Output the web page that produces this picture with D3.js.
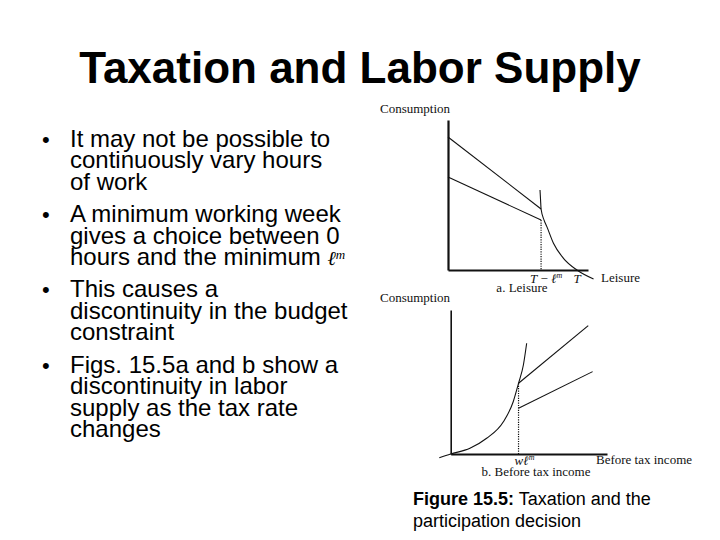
<!DOCTYPE html>
<html>
<head>
<meta charset="utf-8">
<script src="https://cdn.jsdelivr.net/npm/d3@7"></script>
<style>
  body { margin: 0; background: #fff; }
  svg { display: block; }
</style>
</head>
<body>
<script>
const titleText = 'Taxation and Labor Supply';
const bullets = [
  ['It may not be possible to', 'continuously vary hours', 'of work'],
  ['A minimum working week', 'gives a choice between 0', 'hours and the minimum '],
  ['This causes a', 'discontinuity in the budget', 'constraint'],
  ['Figs. 15.5a and b show a', 'discontinuity in labor', 'supply as the tax rate', 'changes']
];
const captionBold = 'Figure 15.5:';
const captionRest = [' Taxation and the', 'participation decision'];

// panel a: leisure (hours a week) against consumption
const timeEndowment = 168;
const leisureAtMin = 121;            // T - l^m
const budgetLeisure = [0, 121];
const lowTaxConsA = [88.7, 40.7];
const highTaxConsA = [62, 33.3];
const curveLeisure = [119.6, 120.3, 121, 125, 128.5, 137.1, 150.1, 167.6, 189.2];
const curveConsA = [53.3, 47, 40.7, 33.1, 28.9, 17.8, 7.8, 0, -6];

// panel b: before tax income against consumption
const minIncome = 43.4;              // w l^m
const lowTaxIncome = [43.4, 88];
const lowTaxConsB = [49.1, 89.1];
const highTaxIncome = [43.4, 90.8];
const highTaxConsB = [31.7, 57.2];
const curveIncome = [-7.3, 0, 12.3, 23, 33.7, 40, 43.4, 46.5, 48.6];
const curveConsB = [-2.6, 0, 4, 10.9, 22.4, 36.3, 49.1, 61.8, 76.9];

const width = 720;
const height = 540;
const sans = '"Liberation Sans", Arial, sans-serif';
const serif = '"Liberation Serif", "Times New Roman", serif';
const ink = '#111';

const svg = d3.select('body')
 .append('svg')
 .attr('width', width)
 .attr('height', height);

svg.append('rect')
 .attr('width', width)
 .attr('height', height)
 .attr('fill', '#fff');

// title
svg.append('text')
 .attr('x', width / 2)
 .attr('y', 83)
 .attr('text-anchor', 'middle')
 .attr('font-family', sans)
 .attr('font-weight', 'bold')
 .attr('font-size', 44)
 .text(titleText);

// bullet list
let baseline = 146.7;
bullets.forEach((lines, i) => {
  if (i > 0) baseline += 10.8;
  svg.append('text')
   .attr('x', 42)
   .attr('y', baseline)
   .attr('font-family', sans)
   .attr('font-size', 22)
   .text('\u2022');
  lines.forEach((line, j) => {
    const t = svg.append('text')
     .attr('x', 70)
     .attr('y', baseline)
     .attr('font-family', sans)
     .attr('font-size', 24)
     .text(line);
    if (i === 1 && j === 2) {
      t.append('tspan')
       .attr('font-family', serif)
       .attr('font-style', 'italic')
       .attr('font-size', 20)
       .text('\u2113');
      t.append('tspan')
       .attr('font-family', serif)
       .attr('font-style', 'italic')
       .attr('font-size', 13)
       .attr('dy', -6)
       .text('m');
    }
    baseline += 21.5;
  });
});

// caption
const cap1 = svg.append('text')
 .attr('x', 413)
 .attr('y', 505)
 .attr('font-family', sans)
 .attr('font-size', 18);
cap1.append('tspan').attr('font-weight', 'bold').text(captionBold);
cap1.append('tspan').text(captionRest[0]);
svg.append('text')
 .attr('x', 413)
 .attr('y', 527)
 .attr('font-family', sans)
 .attr('font-size', 18)
 .text(captionRest[1]);

function serifText(x, y, str, anchor) {
  return svg.append('text')
   .attr('x', x)
   .attr('y', y)
   .attr('text-anchor', anchor || 'start')
   .attr('font-family', serif)
   .attr('font-size', 13)
   .attr('fill', ink)
   .text(str);
}

function styleAxis(g, w) {
  g.select('.domain').attr('stroke', ink).attr('stroke-width', w);
}

// ---------- panel a ----------
const xA = d3.scaleLinear().domain([0, 182]).range([448, 588]);
const yA = d3.scaleLinear().domain([0, 100]).range([270, 120]);

const lineA = d3.line()
 .x((d) => xA(d[0]))
 .y((d) => yA(d[1]));

svg.append('g')
 .attr('transform', `translate(0, ${yA(0)})`)
 .call(d3.axisBottom(xA).tickValues([]).tickSizeOuter(0))
 .call(styleAxis, 2);

svg.append('g')
 .attr('transform', `translate(${xA(0)}, 0)`)
 .call(d3.axisLeft(yA).tickValues([]).tickSizeOuter(0))
 .call(styleAxis, 2.2);

svg.append('path')
 .datum(d3.zip(budgetLeisure, lowTaxConsA))
 .attr('d', lineA)
 .attr('fill', 'none')
 .attr('stroke', ink)
 .attr('stroke-width', 1.1);

svg.append('path')
 .datum(d3.zip(budgetLeisure, highTaxConsA))
 .attr('d', lineA)
 .attr('fill', 'none')
 .attr('stroke', ink)
 .attr('stroke-width', 1.1);

svg.append('path')
 .datum([[leisureAtMin, highTaxConsA[1]], [leisureAtMin, 0]])
 .attr('d', lineA)
 .attr('fill', 'none')
 .attr('stroke', ink)
 .attr('stroke-width', 1.2)
 .attr('stroke-dasharray', '1.2,1.2');

svg.append('path')
 .datum(d3.zip(curveLeisure, curveConsA))
 .attr('d', lineA.curve(d3.curveMonotoneX))
 .attr('fill', 'none')
 .attr('stroke', ink)
 .attr('stroke-width', 1.1);

serifText(380, 112.5, 'Consumption');
serifText(601, 282, 'Leisure');
const tm = serifText(xA(leisureAtMin) - 11, 283, '');
tm.append('tspan').attr('font-style', 'italic').text('T');
tm.append('tspan').text(' \u2212 ');
tm.append('tspan').attr('font-style', 'italic').text('\u2113');
tm.append('tspan').attr('font-style', 'italic').attr('font-size', 8).attr('dy', -5).text('m');
serifText(xA(timeEndowment), 283, 'T', 'middle').attr('font-style', 'italic');
serifText(522, 291.5, 'a. Leisure', 'middle');

// ---------- panel b ----------
const xB = d3.scaleLinear().domain([0, 100]).range([450.7, 607]);
const yB = d3.scaleLinear().domain([0, 100]).range([454, 310]);

const lineB = d3.line()
 .x((d) => xB(d[0]))
 .y((d) => yB(d[1]));

svg.append('g')
 .attr('transform', `translate(0, ${yB(0)})`)
 .call(d3.axisBottom(xB).tickValues([]).tickSizeOuter(0))
 .call(styleAxis, 2);

svg.append('g')
 .attr('transform', `translate(${xB(0)}, 0)`)
 .call(d3.axisLeft(yB).tickValues([]).tickSizeOuter(0))
 .call(styleAxis, 1.6);

svg.append('path')
 .datum(d3.zip(lowTaxIncome, lowTaxConsB))
 .attr('d', lineB)
 .attr('fill', 'none')
 .attr('stroke', ink)
 .attr('stroke-width', 1.1);

svg.append('path')
 .datum(d3.zip(highTaxIncome, highTaxConsB))
 .attr('d', lineB)
 .attr('fill', 'none')
 .attr('stroke', ink)
 .attr('stroke-width', 1.1);

svg.append('path')
 .datum([[minIncome, lowTaxConsB[0]], [minIncome, 0]])
 .attr('d', lineB)
 .attr('fill', 'none')
 .attr('stroke', ink)
 .attr('stroke-width', 1.2)
 .attr('stroke-dasharray', '1.2,1.2');

svg.append('path')
 .datum(d3.zip(curveIncome, curveConsB))
 .attr('d', lineB.curve(d3.curveMonotoneX))
 .attr('fill', 'none')
 .attr('stroke', ink)
 .attr('stroke-width', 1.1);

serifText(380, 301.5, 'Consumption');
serifText(596, 464, 'Before tax income');
const wl = serifText(xB(minIncome) - 4, 465, '');
wl.append('tspan').attr('font-style', 'italic').text('w\u2113');
wl.append('tspan').attr('font-style', 'italic').attr('font-size', 8).attr('dy', -5).text('m');
serifText(536, 475.5, 'b. Before tax income', 'middle');
</script>
</body>
</html>
